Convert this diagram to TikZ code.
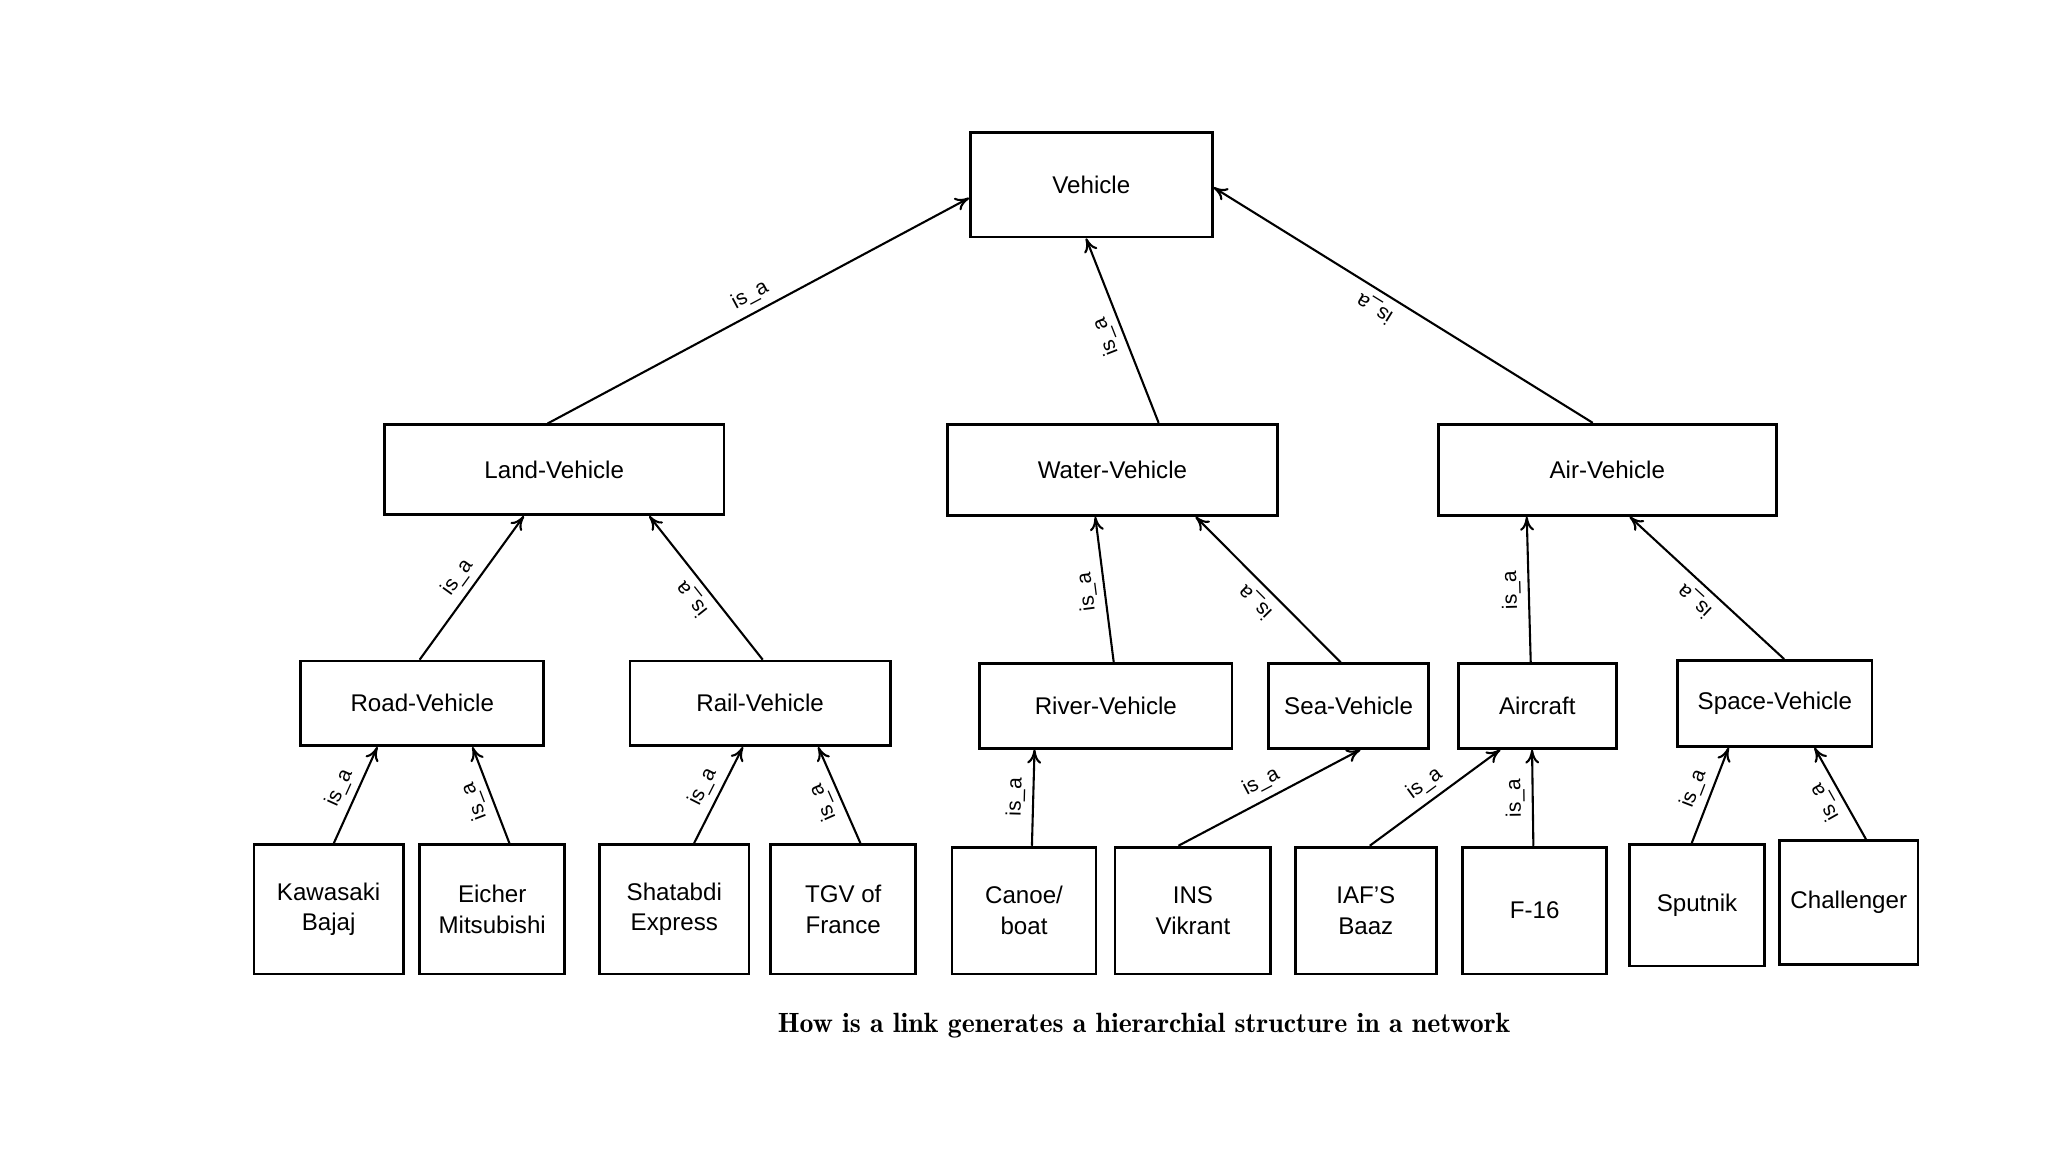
\documentclass[tikz,border=0pt]{standalone}
\usepackage{fontspec}
\setmainfont{Liberation Sans}
\usetikzlibrary{arrows.meta}
\begin{document}
\begin{tikzpicture}[x=0.01cm,y=-0.01cm,
  box/.style={draw,line width=0.6pt,inner sep=0.5pt,align=center,font=\fontsize{5.2}{6.6}\selectfont},
  isa/.style={-{To[length=3pt,width=3pt]},line width=0.45pt},
  lab/.style={sloped,above,allow upside down,font=\fontsize{4.5}{5}\selectfont,inner sep=1.5pt}]
\useasboundingbox (0,0) rectangle (1552,873);
\node[box,minimum width=1.83cm,minimum height=0.79cm] (veh) at (827,140) {Vehicle};
\node[box,minimum width=2.57cm,minimum height=0.68cm] (land) at (420,356) {Land-Vehicle};
\node[box,minimum width=2.50cm,minimum height=0.69cm] (water) at (843,356) {Water-Vehicle};
\node[box,minimum width=2.56cm,minimum height=0.69cm] (air) at (1218,356) {Air-Vehicle};
\node[box,minimum width=1.84cm,minimum height=0.64cm] (road) at (320,533) {Road-Vehicle};
\node[box,minimum width=1.97cm,minimum height=0.64cm] (rail) at (576,533) {Rail-Vehicle};
\node[box,minimum width=1.91cm,minimum height=0.64cm] (river) at (838,535) {River-Vehicle};
\node[box,minimum width=1.21cm,minimum height=0.64cm] (sea) at (1022,535) {Sea-Vehicle};
\node[box,minimum width=1.20cm,minimum height=0.64cm] (craft) at (1165,535) {Aircraft};
\node[box,minimum width=1.47cm,minimum height=0.65cm] (space) at (1345,533) {Space-Vehicle};
\node[box,minimum width=1.13cm,minimum height=0.98cm] (kaw) at (249,689) {Kawasaki\\Bajaj};
\node[box,minimum width=1.10cm,minimum height=0.98cm] (eich) at (373,689) {Eicher\\Mitsubishi};
\node[box,minimum width=1.13cm,minimum height=0.98cm] (shat) at (511,689) {Shatabdi\\Express};
\node[box,minimum width=1.10cm,minimum height=0.98cm] (tgv) at (639,689) {TGV of\\France};
\node[box,minimum width=1.09cm,minimum height=0.96cm] (canoe) at (776,690) {Canoe/\\boat};
\node[box,minimum width=1.18cm,minimum height=0.96cm] (ins) at (904,690) {INS\\Vikrant};
\node[box,minimum width=1.07cm,minimum height=0.96cm] (iaf) at (1035,690) {IAF'S\\Baaz};
\node[box,minimum width=1.09cm,minimum height=0.96cm] (f16) at (1163,690) {F-16};
\node[box,minimum width=1.02cm,minimum height=0.92cm] (sput) at (1286,686) {Sputnik};
\node[box,minimum width=1.05cm,minimum height=0.94cm] (chal) at (1401,684) {Challenger};
\draw[isa] ([xshift=-0.05cm]land.north) -- node[lab]{is\_a} ([yshift=-0.10cm]veh.west);
\draw[isa] ([xshift=0.35cm]water.north) -- node[lab]{is\_a} ([xshift=-0.04cm]veh.south);
\draw[isa] ([xshift=-0.11cm]air.north) -- node[lab,pos=0.55]{is\_a} ([yshift=-0.02cm]veh.east);
\draw[isa] ([xshift=-0.02cm]road.north) -- node[lab]{is\_a} ([xshift=-0.23cm]land.south);
\draw[isa] ([xshift=0.02cm]rail.north) -- node[lab]{is\_a} ([xshift=0.72cm]land.south);
\draw[isa] ([xshift=0.06cm]river.north) -- node[lab]{is\_a} ([xshift=-0.13cm]water.south);
\draw[isa] ([xshift=-0.06cm]sea.north) -- node[lab]{is\_a} ([xshift=0.63cm]water.south);
\draw[isa] ([xshift=-0.05cm]craft.north) -- node[lab]{is\_a} ([xshift=-0.61cm]air.south);
\draw[isa] ([xshift=0.07cm]space.north) -- node[lab]{is\_a} ([xshift=0.17cm]air.south);
\draw[isa] ([xshift=0.04cm]kaw.north) -- node[lab]{is\_a} ([xshift=-0.34cm]road.south);
\draw[isa] ([xshift=0.13cm]eich.north) -- node[lab]{is\_a} ([xshift=0.38cm]road.south);
\draw[isa] ([xshift=0.15cm]shat.north) -- node[lab]{is\_a} ([xshift=-0.13cm]rail.south);
\draw[isa] ([xshift=0.13cm]tgv.north) -- node[lab]{is\_a} ([xshift=0.44cm]rail.south);
\draw[isa] ([xshift=0.06cm]canoe.north) -- node[lab]{is\_a} ([xshift=-0.54cm]river.south);
\draw[isa] ([xshift=-0.11cm]ins.north) -- node[lab]{is\_a} ([xshift=0.09cm]sea.south);
\draw[isa] ([xshift=0.03cm]iaf.north) -- node[lab]{is\_a} ([xshift=-0.28cm]craft.south);
\draw[isa] ([xshift=-0.01cm]f16.north) -- node[lab]{is\_a} ([xshift=-0.04cm]craft.south);
\draw[isa] ([xshift=-0.04cm]sput.north) -- node[lab]{is\_a} ([xshift=-0.35cm]space.south);
\draw[isa] ([xshift=0.13cm]chal.north) -- node[lab]{is\_a} ([xshift=0.30cm]space.south);
\node[font=\fontfamily{lmr}\fontsize{6}{7}\selectfont\bfseries] (cap) at (867,777) {How is a link generates a hierarchial structure in a network};
\end{tikzpicture}
\end{document}
